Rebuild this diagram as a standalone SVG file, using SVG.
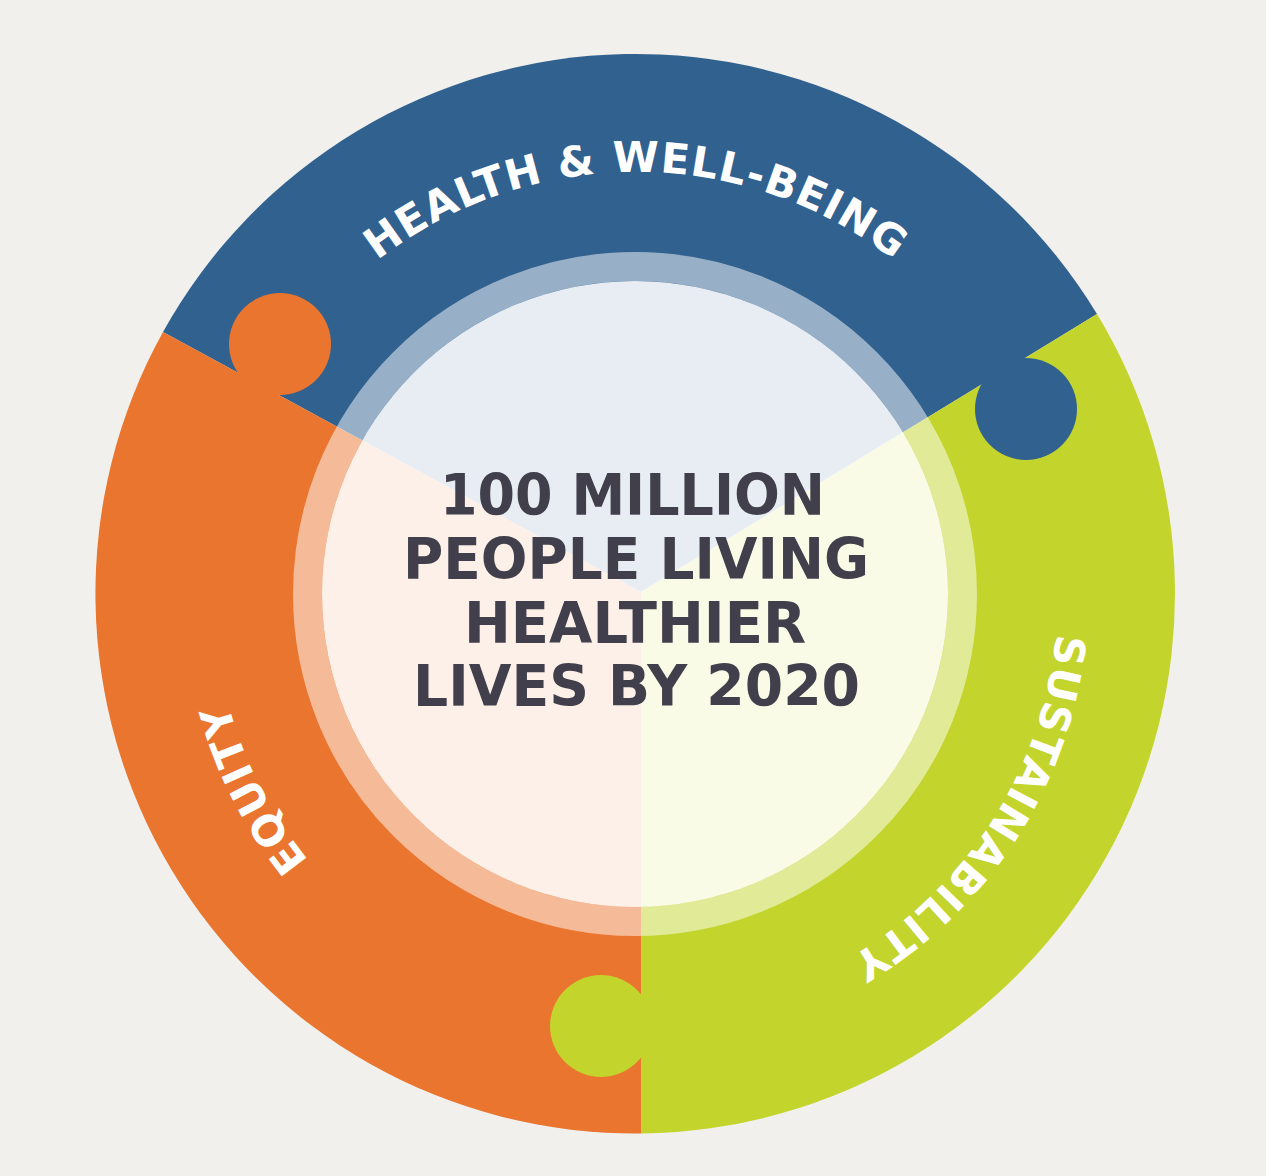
<svg xmlns="http://www.w3.org/2000/svg" width="1266" height="1176" viewBox="0 0 1266 1176">
  <style>
    .blue { fill: #31618f; }
    .orange { fill: #ea752e; }
    .green { fill: #c3d42c; }
    .label { font-family: "DejaVu Sans", "Liberation Sans", sans-serif; font-weight: bold; font-size: 42px; fill: #ffffff; letter-spacing: 1px; }
    .center { font-family: "DejaVu Sans", "Liberation Sans", sans-serif; font-weight: bold; font-size: 57px; fill: #403f4b; }
  </style>
  <defs>
    <path id="arcTop" d="M 220.4 520.7 A 422 422 0 0 1 1051.6 520.7"/>
    <path id="arcRight" d="M 921.1 282.9 A 422 422 0 0 1 474.5 983.9"/>
    <path id="arcLeft" d="M 759.4 997.6 A 422 422 0 0 1 382.0 257.0"/>
  </defs>
  <rect x="0" y="0" width="1266" height="1176" fill="#f1f0ec"/>

  <g id="segment-health">
    <path class="blue" d="M 641 592 L 163 332 A 540 540 0 0 1 1097 314 Z"/>
  </g>
  <g id="segment-sustainability">
    <path class="green" d="M 641 592 L 1097 314 A 540 540 0 0 1 641 1133.5 Z"/>
  </g>
  <g id="segment-equity">
    <path class="orange" d="M 641 592 L 641 1133.5 A 540 540 0 0 1 163 332 Z"/>
  </g>

  <g id="knobs">
    <circle class="orange" cx="280" cy="344" r="51"/>
    <circle class="blue" cx="1026" cy="409" r="51"/>
    <circle class="green" cx="601" cy="1026" r="51"/>
  </g>

  <g id="center">
    <circle cx="635" cy="594" r="327.5" fill="none" stroke="#ffffff" stroke-opacity="0.5" stroke-width="29"/>
    <circle cx="635" cy="594" r="313" fill="#ffffff" fill-opacity="0.89"/>
    <text class="center" x="440" y="515" textLength="385" lengthAdjust="spacingAndGlyphs">100 MILLION</text>
    <text class="center" x="403" y="579" textLength="466" lengthAdjust="spacingAndGlyphs">PEOPLE LIVING</text>
    <text class="center" x="464" y="643" textLength="342" lengthAdjust="spacingAndGlyphs">HEALTHIER</text>
    <text class="center" x="413" y="706" textLength="447" lengthAdjust="spacingAndGlyphs">LIVES BY 2020</text>
  </g>

  <g id="labels">
    <text class="label"><textPath href="#arcTop" startOffset="50%" text-anchor="middle">HEALTH &amp; WELL-BEING</textPath></text>
    <text class="label"><textPath href="#arcRight" startOffset="50%" text-anchor="middle">SUSTAINABILITY</textPath></text>
    <text class="label"><textPath href="#arcLeft" startOffset="50%" text-anchor="middle">EQUITY</textPath></text>
  </g>

  <g id="connectors"></g>
</svg>
